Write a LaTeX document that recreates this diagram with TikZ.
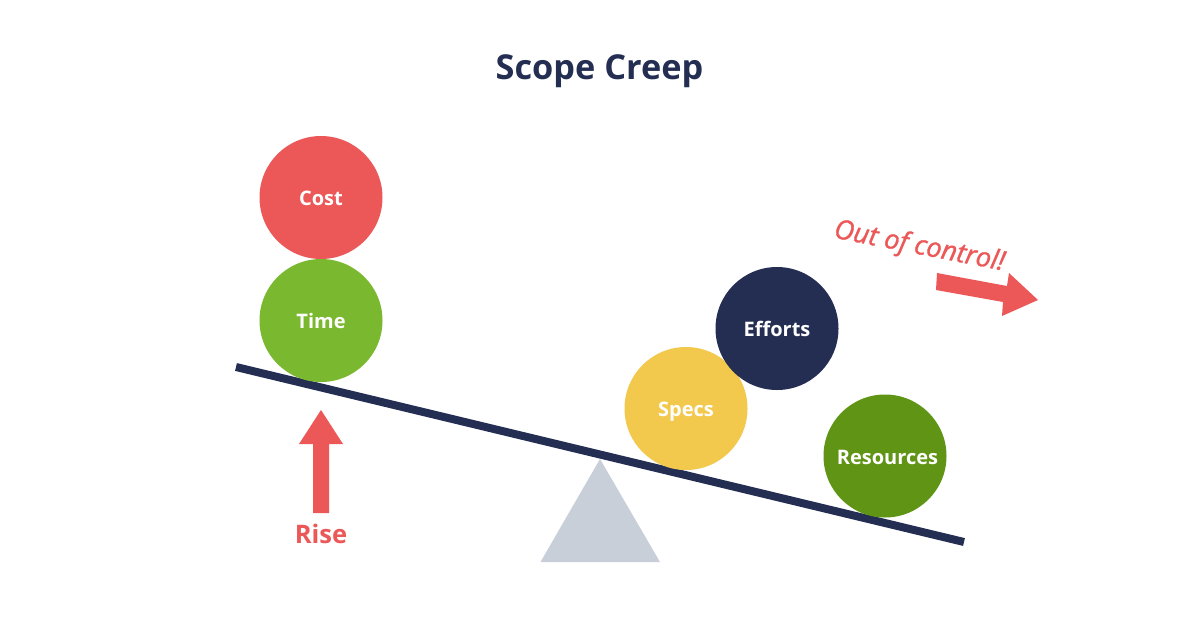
\documentclass[tikz,border=0pt]{standalone}
\usepackage{fontspec}
\setmainfont{Open Sans}
\newfontfamily\oocfont[FakeBold=1.2]{Open Sans}
\definecolor{navy}{HTML}{232E52}
\definecolor{redc}{HTML}{EC5858}
\definecolor{lime}{HTML}{7AB82F}
\definecolor{yel}{HTML}{F2C94C}
\definecolor{dgreen}{HTML}{609414}
\definecolor{greyc}{HTML}{C8CFD9}
\tikzset{x=1pt,y=-1pt,
 ball/.style={circle,minimum size=123pt,inner sep=0pt,text=white,text height=16.5pt,text depth=0pt,font=\fontsize{20}{24}\selectfont\bfseries},
 lab/.style={inner sep=0pt,text=redc,font=\fontsize{25.5}{30}\selectfont\bfseries}}
\begin{document}
\begin{tikzpicture}
\useasboundingbox (0,0) rectangle (1200,630);
\fill[white] (0,0) rectangle (1200,630);
\node[anchor=base,inner sep=0pt,text=navy,font=\fontsize{34.3}{40}\selectfont\bfseries] (title) at (599.5,79) {Scope Creep};
\fill[greyc] (600,459) -- (660,562) -- (540.5,562) -- cycle;
\coordinate (beamL) at (236,367);
\coordinate (beamR) at (964,542);
\draw[navy,line width=8pt] (beamL) -- (beamR);
\node[ball,fill=redc] (cost) at (321,197.500) {Cost};
\node[ball,fill=lime] (time) at (321,320.500) {Time};
\node[ball,fill=yel] (specs) at (686,408.500) {Specs};
\node[ball,fill=navy] (efforts) at (777,328.500) {Efforts};
\node[ball,fill=dgreen] (res) at (885,456) {\hspace{5pt}Resources};
\fill[redc] (313,513) -- (313,444) -- (299,444) -- (321,410) -- (343,444) -- (329,444) -- (329,513) -- cycle;
\node[lab] (rise) at (321,533.5) {Rise};
\fill[redc] (937,273) -- (1007,286) -- (1009,273) -- (1038,300) -- (1002,316) -- (1003,302) -- (936,290) -- cycle;
\node[anchor=base,inner sep=0pt,text=redc,font=\fontsize{27}{30}\selectfont\oocfont,rotate=-11] (ooc) at (918,254) {\itshape Out of control!};
\end{tikzpicture}
\end{document}
